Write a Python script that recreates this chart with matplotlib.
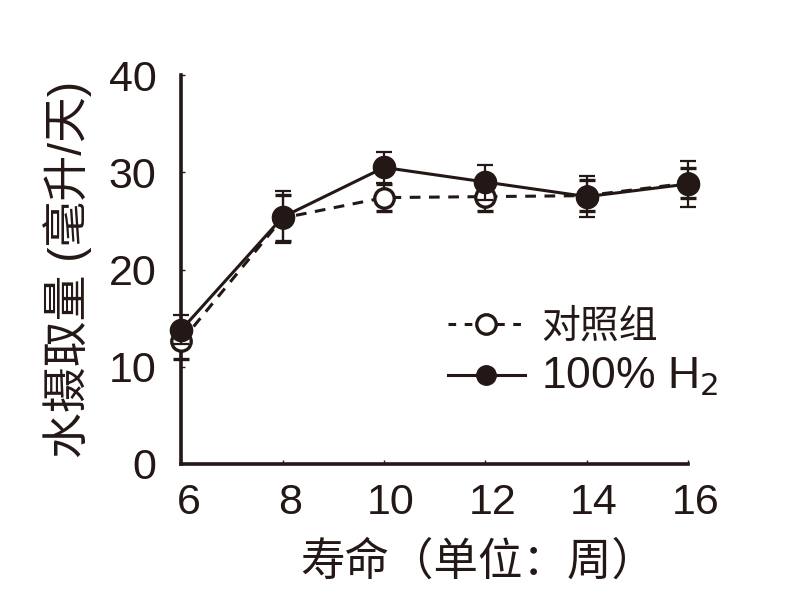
import matplotlib.pyplot as plt
from matplotlib.lines import Line2D
from matplotlib.transforms import ScaledTranslation

plt.rcParams['font.family'] = ['Liberation Sans', 'Noto Sans CJK SC']

# data
weeks = [6, 8, 10, 12, 14, 16]
ctrl = [12.6, 25.3, 27.4, 27.5, 27.6, 28.9]
ctrl_err = [1.8, 2.4, 1.4, 1.5, 1.6, 1.5]
h2 = [13.8, 25.4, 30.5, 29.0, 27.5, 28.8]
h2_err = [1.5, 2.7, 1.6, 1.8, 2.1, 2.4]
labels = ['对照组', '100% H$_2$']
ink = '#231815'

fig = plt.figure(figsize=(7.92, 6.16), dpi=100)
ax = fig.add_axes([0.229, 0.247, 0.640, 0.631])

ax.errorbar(weeks, ctrl, yerr=ctrl_err, color=ink, lw=2.2, ls=(0, (3.5, 2.8)),
            marker='o', ms=14, mfc='white', mec=ink, mew=2.4,
            ecolor=ink, elinewidth=1.6, capsize=6, capthick=1.6,
            clip_on=False, zorder=3)
ax.errorbar(weeks, h2, yerr=h2_err, color=ink, lw=2.2,
            marker='o', ms=16, mfc=ink, mec=ink,
            ecolor=ink, elinewidth=1.6, capsize=6, capthick=1.6,
            clip_on=False, zorder=4)

ax.set_xlim(6, 16)
ax.set_ylim(0, 40)
ax.set_xticks(weeks)
ax.set_yticks([0, 10, 20, 30, 40])
for s in ['top', 'right']:
    ax.spines[s].set_visible(False)
for s in ['left', 'bottom']:
    ax.spines[s].set_linewidth(2.6)
    ax.spines[s].set_color(ink)
ax.tick_params(direction='in', length=3, width=1, colors=ink, labelsize=31, pad=14)
ax.tick_params(axis='y', pad=18)
# x tick labels sit a little right of their ticks in the original
shift = ScaledTranslation(7 / 100, 0, fig.dpi_scale_trans)
for lab in ax.get_xticklabels():
    lab.set_transform(lab.get_transform() + shift)

ax.set_ylabel('水摄取量 (毫升/天)', fontsize=33, color=ink, labelpad=12)
ax.set_xlabel('寿命（单位：周）', fontsize=32, color=ink, labelpad=8)
ax.xaxis.set_label_coords(0.586, -0.2)

handles = [
    Line2D([], [], color=ink, lw=2.2, ls=(0, (2.5, 2.8)), marker='o', ms=14,
           mfc='white', mec=ink, mew=2.4),
    Line2D([], [], color=ink, lw=2.2, marker='o', ms=14, mfc=ink, mec=ink),
]
leg = ax.legend(handles, labels, loc='center left', bbox_to_anchor=(0.456, 0.283),
                frameon=False, fontsize=28, handlelength=2.0, handletextpad=0.4,
                labelspacing=0.25, labelcolor=ink)
leg.get_texts()[1].set_fontsize(32)

fig.savefig('out.png', dpi=100)
